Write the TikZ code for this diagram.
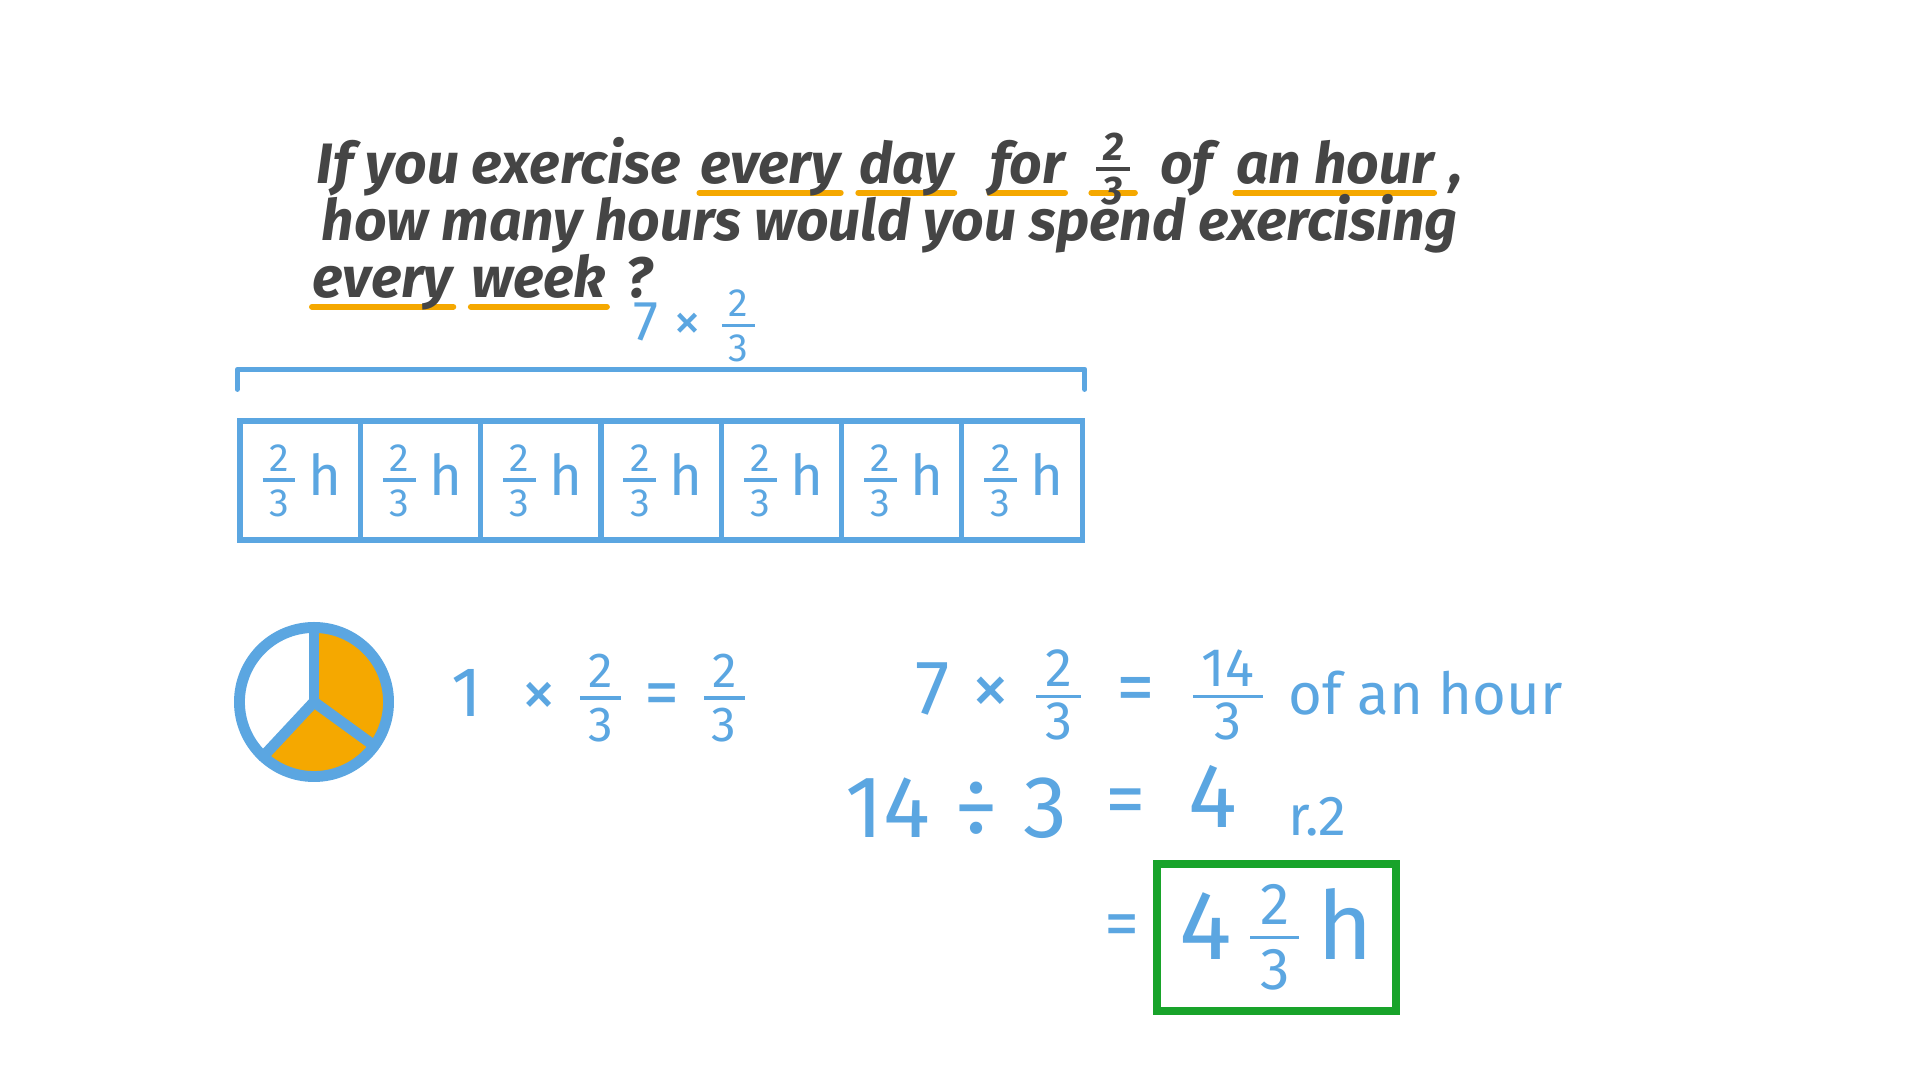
\documentclass[tikz,border=0pt]{standalone}
\usepackage{fontspec}
\usepackage{amsmath}
\setmainfont{Fira Sans}
\definecolor{qblue}{HTML}{5BA6E1}
\definecolor{qorange}{HTML}{F5A800}
\definecolor{qgreen}{HTML}{18A32A}
\definecolor{qdark}{HTML}{454545}
\newcommand\fr[2]{\ensuremath{\genfrac{}{}{1pt}{1}{\text{\,#1\,}}{\text{\,#2\,}}}}
\pgfdeclarelayer{back}
\pgfdeclarelayer{under}
\pgfsetlayers{back,under,main}
\begin{document}
\begin{tikzpicture}[x=0.01cm,y=-0.01cm,
  q/.style={inner sep=0pt, text=qdark, font=\fontsize{16.2}{19}\selectfont\bfseries\itshape},
  ul/.style={draw=qorange, line width=1.7pt, line cap=round},
  bl/.style={draw=qblue, line width=1.5pt, line join=round, line cap=round},
  cell/.style={draw=qblue, line width=1.5pt, minimum width=1.203cm, minimum height=1.19cm, inner sep=0pt, text=qblue, font=\fontsize{16}{19}\selectfont},
  eq/.style={inner sep=0pt, text=qblue},
  pie/.style={draw=qblue, line width=3.1pt, line cap=round},
  ans/.style={draw=qgreen, line width=2.4pt, minimum width=2.39cm, minimum height=1.47cm, inner sep=0pt, text=qblue, font=\fontsize{24}{28}\selectfont}]
\begin{pgfonlayer}{back}
\fill[white] (0,0) rectangle (1920,1080);
\end{pgfonlayer}
\useasboundingbox (0,0) rectangle (1920,1080);

% question, line 1
\node[q, anchor=base west] (q1a) at (316,184) {If you exercise};
\node[q, anchor=base west] (q1b) at ([xshift=5.2pt]q1a.base east) {every};
\node[q, anchor=base west] (q1c) at ([xshift=5pt]q1b.base east) {day};
\node[q, anchor=base west] (q1d) at ([xshift=10pt]q1c.base east) {for};
\node[q, anchor=base west] (q1e) at ([xshift=7.5pt]q1d.base east) {\fr{2}{3}};
\node[q, anchor=base west] (q1f) at ([xshift=7pt]q1e.base east) {of};
\node[q, anchor=base west] (q1g) at ([xshift=6.3pt]q1f.base east) {an hour};
\node[q, anchor=base west] (q1h) at ([xshift=4.2pt]q1g.base east) {,};
% line 2
\node[q, anchor=base west] (q2) at (321,241) {how many hours would you spend exercising};
% line 3
\node[q, anchor=base west] (q3a) at (312,298) {every};
\node[q, anchor=base west] (q3b) at ([xshift=5pt]q3a.base east) {week};
\node[q, anchor=base west] (q3c) at ([xshift=5pt]q3b.base east) {?};

\begin{pgfonlayer}{under}
\foreach \n in {q1b,q1c,q1d,q1e,q1g,q3a,q3b}
  \draw[ul] ([yshift=-2.5pt]\n.base west) -- ([yshift=-2.5pt]\n.base east);
\end{pgfonlayer}

% bar model
\foreach \i in {1,...,7}
  \node[cell] (b\i) at ({240+120.3*(\i-0.5)},480.5) {\fr{2}{3}\,h};
\draw[bl] ([yshift=0.29cm]b1.north west) -- ([yshift=0.49cm]b1.north west)
  -- ([yshift=0.49cm]b7.north east) -- ([yshift=0.29cm]b7.north east);
\node[eq, font=\fontsize{16}{19}\selectfont] (lab) at (696,326) {7\;×\;\fr{2}{3}};

% pie
\coordinate (pc) at (314,702);
\fill[qorange] (pc) -- ++(-133:0.745cm) arc[start angle=-133, end angle=90, radius=0.745cm] -- cycle;
\draw[pie] (pc) circle[radius=0.745cm];
\draw[pie] (pc) -- ++(90:0.745cm);
\draw[pie] (pc) -- ++(-133:0.745cm);
\draw[pie] (pc) -- ++(-36:0.745cm);

\node[eq, anchor=west, font=\fontsize{20}{24}\selectfont] (one) at (451,698)
  {1\;\;×\;\fr{2}{3}\;=\;\fr{2}{3}};

% equations on the right
\node[eq, anchor=east, font=\fontsize{22}{26}\selectfont] (e1l) at (1086,695) {7\;×\;\fr{2}{3}};
\node[eq, font=\fontsize{22}{26}\selectfont] (e1m) at (1136,695) {=};
\node[eq, anchor=west, font=\fontsize{22}{26}\selectfont] (e1r) at (1188,695) {\fr{14}{3}\;{\fontsize{16.5}{20}\selectfont of an hour}};

\node[eq, anchor=east, font=\fontsize{25}{29}\selectfont] (e2l) at (1068,808) {14\;÷\;3};
\node[eq, font=\fontsize{23}{27}\selectfont] (e2m) at (1126,808) {=};
\node[eq, anchor=base west, font=\fontsize{26}{30}\selectfont] (e2r) at (1188,828) {4\;\;\raisebox{-2pt}{\fontsize{16}{18}\selectfont r.2}};

\node[eq, font=\fontsize{20}{24}\selectfont] (e3m) at (1122,931) {=};
\node[ans] (box) at (1276.5,937.5) {{\fontsize{28}{32}\selectfont 4}\,\fr{2}{3}\,{\fontsize{27}{32}\selectfont h}};
\end{tikzpicture}
\end{document}
